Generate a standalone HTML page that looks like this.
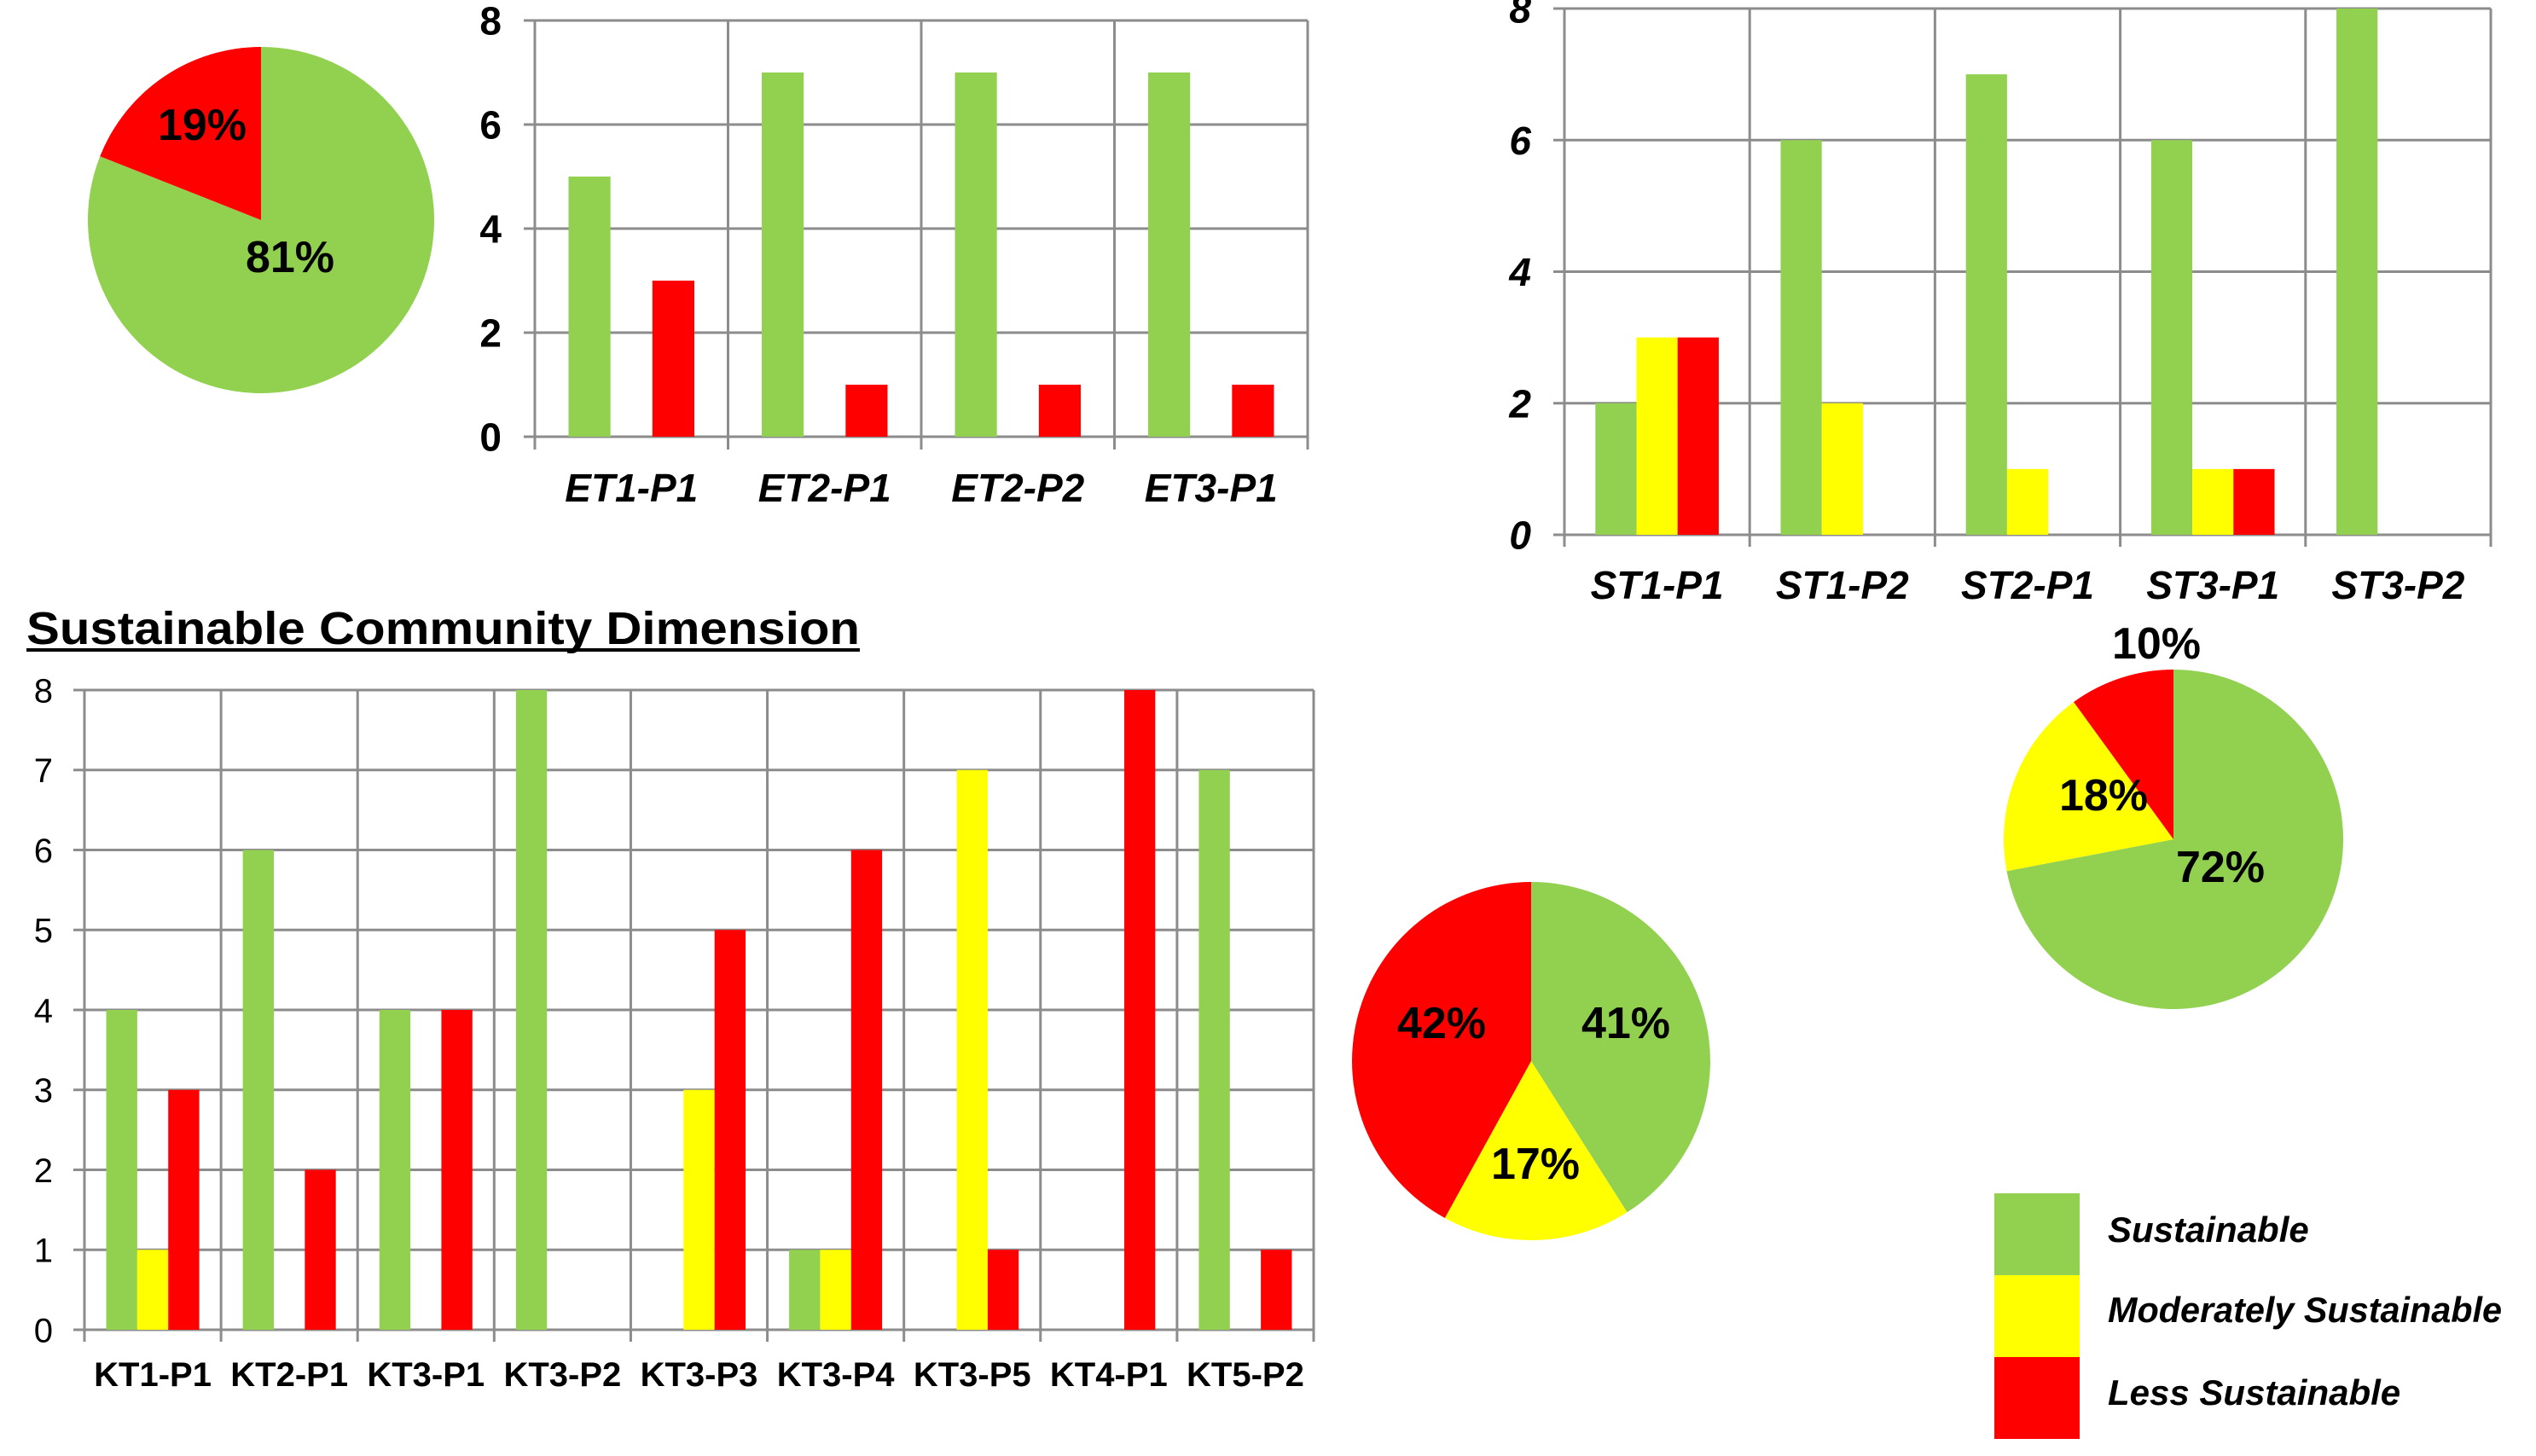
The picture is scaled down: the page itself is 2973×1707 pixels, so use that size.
<!DOCTYPE html>
<html><head><meta charset="utf-8"><style>
html,body{margin:0;padding:0;background:#fff;}
svg{display:block;font-family:"Liberation Sans",Arial,sans-serif;}
</style></head><body>
<svg id="root" xmlns="http://www.w3.org/2000/svg" width="2973" height="1707" viewBox="0 0 2973 1707">
<text x="31" y="755" font-size="54" font-weight="bold" textLength="977" lengthAdjust="spacingAndGlyphs">Sustainable Community Dimension</text>
<rect x="31" y="760" width="977" height="4" fill="#000"/>
<g>
<rect x="2338" y="1399" width="100" height="96" fill="#92D050"/>
<rect x="2338" y="1495" width="100" height="96" fill="#FFFF00"/>
<rect x="2338" y="1591" width="100" height="96" fill="#FF0000"/>
<text x="2471" y="1456" font-size="42" font-weight="bold" font-style="italic">Sustainable</text>
<text x="2471" y="1550" font-size="42" font-weight="bold" font-style="italic" textLength="462" lengthAdjust="spacingAndGlyphs">Moderately Sustainable</text>
<text x="2471" y="1647" font-size="42" font-weight="bold" font-style="italic">Less Sustainable</text>
</g>
</svg>
<script>
// ---- data ----
const etCategories = ["ET1-P1","ET2-P1","ET2-P2","ET3-P1"];
const etGreen = [5,7,7,7];
const etYellow = [0,0,0,0];
const etRed = [3,1,1,1];
const etTicks = [0,2,4,6,8];

const stCategories = ["ST1-P1","ST1-P2","ST2-P1","ST3-P1","ST3-P2"];
const stGreen = [2,6,7,6,8];
const stYellow = [3,2,1,1,0];
const stRed = [3,0,0,1,0];
const stTicks = [0,2,4,6,8];

const ktCategories = ["KT1-P1","KT2-P1","KT3-P1","KT3-P2","KT3-P3","KT3-P4","KT3-P5","KT4-P1","KT5-P2"];
const ktGreen = [4,6,4,8,0,1,0,0,7];
const ktYellow = [1,0,0,0,3,1,7,0,0];
const ktRed = [3,2,4,0,5,6,1,8,1];
const ktTicks = [0,1,2,3,4,5,6,7,8];

const pieEtValues = [81,0,19];
const pieStValues = [72,18,10];
const pieKtValues = [41,17,42];

const NS = "http://www.w3.org/2000/svg";
const root = document.getElementById("root");
const COLORS = ["#92D050","#FFFF00","#FF0000"];
function mk(tag, attrs, parent){
  const e = document.createElementNS(NS, tag);
  for (const k in attrs) e.setAttribute(k, attrs[k]);
  (parent||root).appendChild(e);
  return e;
}

function barChart(prefix, cfg, cats, series, ticks){
  const g = mk("g", {});
  
  
  const maxV = ticks[ticks.length-1];
  const y = v => cfg.bottom - (v / maxV) * (cfg.bottom - cfg.top);
  const cw = (cfg.right - cfg.left) / cats.length;
  const x = i => cfg.left + i * cw;
  ticks.forEach(t => {
    const l = mk("line", {x1: cfg.left - 13, x2: cfg.right, y1: y(t), y2: y(t), stroke: "#8c8c8c", "stroke-width": 3}, g);
    
    
    const tx = mk("text", {x: cfg.labelX, y: y(t) + cfg.ySize*0.36, "font-size": cfg.ySize, "text-anchor": "end", "font-weight": cfg.yWeight, "font-style": cfg.yStyle}, g);
    tx.textContent = t;
    
    
  });
  for (let i = 0; i <= cats.length; i++){
    const l = mk("line", {x1: x(i), x2: x(i), y1: cfg.top, y2: cfg.tickEnd, stroke: "#8c8c8c", "stroke-width": 3}, g);
    
    
  }
  const bw = cw * cfg.barFrac;
  const off = (cw - 3*bw) / 2;
  cats.forEach((c, i) => {
    series.forEach((s, k) => {
      const v = s[i];
      if (v <= 0) return;
      const r = mk("rect", {x: x(i) + off + k*bw, y: y(v), width: bw, height: y(0) - y(v), fill: COLORS[k]}, g);
      
      
    });
    const tx = mk("text", {x: x(i) + cw/2, y: cfg.xLabelY, "font-size": cfg.xSize, "text-anchor": "middle", "font-weight": "bold", "font-style": cfg.xStyle}, g);
    tx.textContent = c;
    
    
  });
}

barChart("et", {left:627, right:1533, top:24, bottom:512, tickEnd:527, labelX:588, ySize:46, yWeight:"bold", yStyle:"normal", xSize:46, xStyle:"italic", xLabelY:588, barFrac:0.217},
  etCategories, [etGreen, etYellow, etRed], etTicks);
barChart("st", {left:1834, right:2920, top:10, bottom:627, tickEnd:641, labelX:1795, ySize:46, yWeight:"bold", yStyle:"italic", xSize:46, xStyle:"italic", xLabelY:702, barFrac:0.222},
  stCategories, [stGreen, stYellow, stRed], stTicks);
barChart("kt", {left:99, right:1540, top:809, bottom:1559, tickEnd:1573, labelX:62, ySize:40, yWeight:"normal", yStyle:"normal", xSize:40, xStyle:"normal", xLabelY:1625, barFrac:0.227},
  ktCategories, [ktGreen, ktYellow, ktRed], ktTicks);

function pie(prefix, cx, cy, r, vals, labels){
  const g = mk("g", {});
  
  
  const total = vals.reduce((a,b)=>a+b,0);
  let a0 = 0;
  vals.forEach((v, k) => {
    if (v <= 0) return;
    const a1 = a0 + v/total * 2*Math.PI;
    const p = (a) => [cx + r*Math.sin(a), cy - r*Math.cos(a)];
    const [x0,y0] = p(a0), [x1,y1] = p(a1);
    const large = (a1 - a0) > Math.PI ? 1 : 0;
    const path = mk("path", {d: `M${cx},${cy} L${x0},${y0} A${r},${r} 0 ${large} 1 ${x1},${y1} Z`, fill: COLORS[k]}, g);
    
    
    a0 = a1;
  });
  labels.forEach((L, k) => {
    if (!L) return;
    const t = mk("text", {x: L[0], y: L[1] + 12, "font-size": 52, "font-weight": "bold", "text-anchor": "middle"}, g);
    t.textContent = vals[k] + "%";
    
    
  });
}
pie("et", 306, 258, 203, pieEtValues, [[340,307], null, [237,152]]);
pie("st", 2548, 984, 199, pieStValues, [[2603,1022], [2466,938], [2528,760]]);
pie("kt", 1795, 1244, 210, pieKtValues, [[1906,1205], [1800,1370], [1690,1205]]);
</script>
</body></html>
